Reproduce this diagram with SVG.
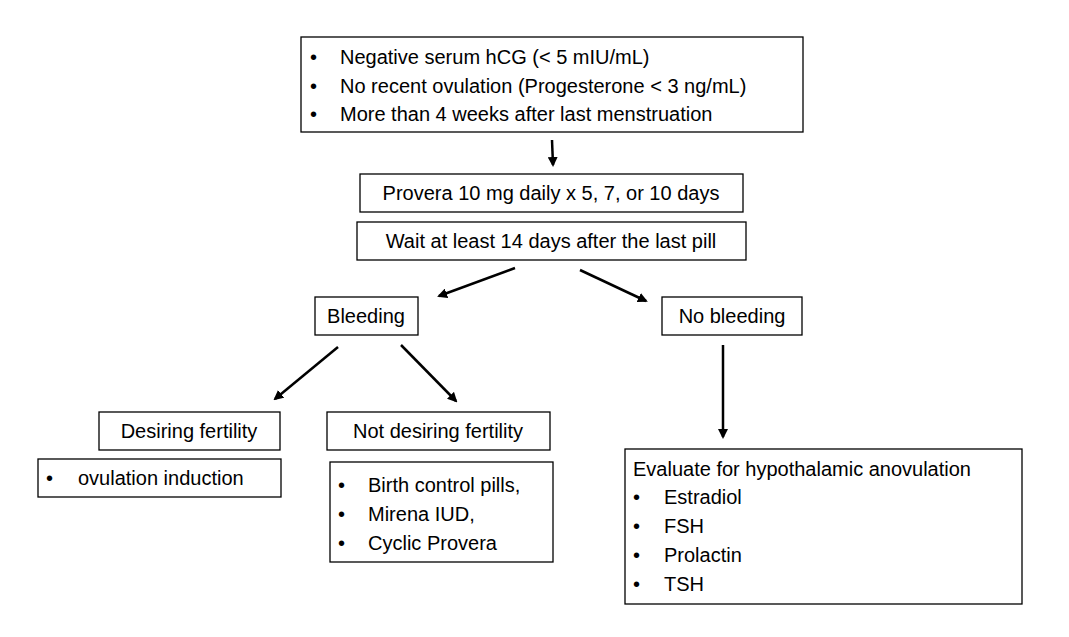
<svg xmlns="http://www.w3.org/2000/svg" width="1069" height="637" viewBox="0 0 1069 637">
<style>
rect{fill:#fff;stroke:#000;stroke-width:1.3}
text{font-family:"Liberation Sans",Arial,sans-serif;font-size:20px;fill:#000}
.c{text-anchor:middle}
line{stroke:#000;stroke-width:2.5;marker-end:url(#a)}
</style>
<defs><marker id="a" viewBox="0 0 10 10" refX="8" refY="5" markerWidth="4" markerHeight="4" orient="auto"><path d="M0,0L10,5L0,10z" fill="#000"/></marker></defs>
<rect width="1069" height="637" style="stroke:none"/>
<g id="criteria"><rect x="301" y="37" width="502" height="95"/>
<text x="310" y="64">•</text><text x="340" y="64">Negative serum hCG (&lt; 5 mIU/mL)</text>
<text x="310" y="93">•</text><text x="340" y="93">No recent ovulation (Progesterone &lt; 3 ng/mL)</text>
<text x="310" y="121">•</text><text x="340" y="121">More than 4 weeks after last menstruation</text></g>
<g id="provera"><rect x="360" y="174" width="383" height="38"/><text class="c" x="551" y="200">Provera 10 mg daily x 5, 7, or 10 days</text></g>
<g id="wait"><rect x="357" y="222" width="389" height="38"/><text class="c" x="551" y="248">Wait at least 14 days after the last pill</text></g>
<g id="bleeding"><rect x="315" y="297" width="103" height="38"/><text class="c" x="366" y="323">Bleeding</text></g>
<g id="nobleeding"><rect x="662" y="297" width="140" height="38"/><text class="c" x="732" y="323">No bleeding</text></g>
<g id="desiring"><rect x="99" y="412" width="181" height="38"/><text class="c" x="189" y="438">Desiring fertility</text></g>
<g id="notdesiring"><rect x="327" y="412" width="223" height="38"/><text class="c" x="438" y="438">Not desiring fertility</text></g>
<g id="ovulation"><rect x="38" y="459" width="243" height="38"/><text x="46" y="485">•</text><text x="78" y="485">ovulation induction</text></g>
<g id="options"><rect x="330" y="462" width="223" height="100"/>
<text x="338" y="492">•</text><text x="368" y="492">Birth control pills,</text>
<text x="338" y="521">•</text><text x="368" y="521">Mirena IUD,</text>
<text x="338" y="550">•</text><text x="368" y="550">Cyclic Provera</text></g>
<g id="evaluate"><rect x="625" y="449" width="397" height="155"/>
<text x="633" y="476">Evaluate for hypothalamic anovulation</text>
<text x="633" y="504">•</text><text x="664" y="504">Estradiol</text>
<text x="633" y="533">•</text><text x="664" y="533">FSH</text>
<text x="633" y="562">•</text><text x="664" y="562">Prolactin</text>
<text x="633" y="591">•</text><text x="664" y="591">TSH</text></g>
<g id="connectors">
<line x1="552" y1="140" x2="553" y2="165"/>
<line x1="515" y1="268" x2="439" y2="296"/>
<line x1="580" y1="270" x2="646" y2="301"/>
<line x1="338" y1="347" x2="275" y2="399"/>
<line x1="401" y1="345" x2="456" y2="401"/>
<line x1="723" y1="345" x2="723" y2="437"/>
</g>
</svg>
